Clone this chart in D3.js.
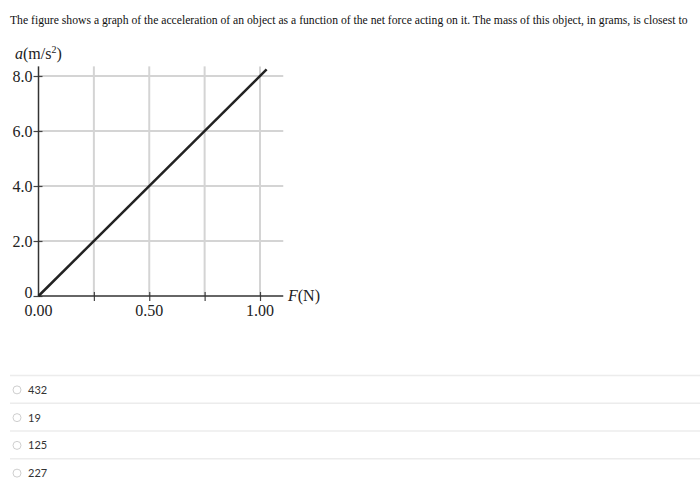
<!DOCTYPE html>
<html>
<head>
<meta charset="utf-8">
<script src="https://cdn.jsdelivr.net/npm/d3@7"></script>
<style>
  body { margin: 0; background: #fff; }
</style>
</head>
<body>
<svg width="700" height="492"></svg>
<script>
// data
const forceTicks = [0.25, 0.5, 0.75, 1.0]
const forceLabels = [0, 0.5, 1.0]
const accelTicks = [0, 2, 4, 6, 8]
const lineF = [0, 1.03]
const lineA = [0, 8.24]
const choices = ["432", "19", "125", "227"]
const question = "The figure shows a graph of the acceleration of an object as a function of the net force acting on it. The mass of this object, in grams, is closest to"

const svg = d3.select("svg")
const serif = "'Liberation Serif', 'Times New Roman', serif"

// question text, squeezed horizontally like the condensed original
const q = svg.append("text").attr("x", 0).attr("y", 0)
  .attr("font-family", serif).attr("font-size", 13.5).attr("fill", "#111")
  .text(question)
const qw = q.node().getComputedTextLength()
q.attr("transform", `translate(10,24) scale(${678 / qw},1)`)

const x = d3.scaleLinear().domain([0, 1]).range([38.5, 260])
const y = d3.scaleLinear().domain([0, 8]).range([296, 76])
const xMax = 1.105, yMax = 8.35

const g = svg.append("g")

// grid
g.selectAll(".vgrid").data(forceTicks).join("line")
  .attr("x1", d => x(d)).attr("x2", d => x(d))
  .attr("y1", y(0)).attr("y2", y(yMax))
  .attr("stroke", "#d4d4d4").attr("stroke-width", 2)
g.selectAll(".hgrid").data(accelTicks.filter(d => d > 0)).join("line")
  .attr("x1", x(0)).attr("x2", x(xMax))
  .attr("y1", d => y(d)).attr("y2", d => y(d))
  .attr("stroke", "#d4d4d4").attr("stroke-width", 2)

// axes
const yAxis = g.append("g").attr("transform", `translate(${x(0)},0)`)
  .call(d3.axisLeft(y).tickValues(accelTicks).tickSize(5).tickPadding(1)
    .tickFormat(d => d === 0 ? "0" : d3.format(".1f")(d)))
yAxis.select(".domain").remove()
yAxis.selectAll(".tick line").attr("x1", 4).attr("x2", -5).attr("stroke", "#444").attr("stroke-width", 1.2)
yAxis.selectAll("text").attr("font-family", serif).attr("font-size", 16).attr("fill", "#222")
yAxis.selectAll(".tick").filter(d => d === 0).select("text").attr("dy", "0.1em")

const xAxis = g.append("g").attr("transform", `translate(0,${y(0)})`)
  .call(d3.axisBottom(x).tickValues(forceTicks).tickSize(5).tickFormat(""))
xAxis.select(".domain").remove()
xAxis.selectAll(".tick line").attr("y1", -4).attr("stroke", "#444").attr("stroke-width", 1.2)

g.selectAll(".xlab").data(forceLabels).join("text")
  .attr("x", d => x(d)).attr("y", y(0) + 20)
  .attr("text-anchor", "middle").attr("font-family", serif).attr("font-size", 16).attr("fill", "#222")
  .text(d => d3.format(".2f")(d))

g.append("line").attr("x1", x(0)).attr("x2", x(0)).attr("y1", y(0)).attr("y2", y(yMax))
  .attr("stroke", "#333").attr("stroke-width", 1.5)
g.append("line").attr("x1", x(0)).attr("x2", x(xMax)).attr("y1", y(0)).attr("y2", y(0))
  .attr("stroke", "#333").attr("stroke-width", 1.5)

// axis titles
const at = svg.append("text").attr("x", 15).attr("y", 59)
  .attr("font-family", serif).attr("font-size", 16).attr("fill", "#222")
at.append("tspan").attr("font-style", "italic").text("a")
at.append("tspan").text("(m/s")
at.append("tspan").attr("font-size", 10).attr("dy", -6).text("2")
at.append("tspan").attr("dy", 6).text(")")

const ft = svg.append("text").attr("x", 288).attr("y", y(0) + 5)
  .attr("font-family", serif).attr("font-size", 16).attr("fill", "#222")
ft.append("tspan").attr("font-style", "italic").text("F")
ft.append("tspan").text("(N)")

// data line
g.append("path")
  .datum(lineF.map((f, i) => [f, lineA[i]]))
  .attr("d", d3.line().x(d => x(d[0])).y(d => y(d[1])))
  .attr("fill", "none").attr("stroke", "#222").attr("stroke-width", 2.5)

// answer choices
const rowY = d3.scaleBand().domain(choices).range([375.5, 486.5])
const opts = svg.selectAll(".opt").data(choices).join("g")
  .attr("transform", d => `translate(0,${rowY(d)})`)
opts.append("line").attr("x1", 10).attr("x2", 700).attr("y1", 0).attr("y2", 0)
  .attr("stroke", "#ececec").attr("stroke-width", 1.5)
opts.append("circle").attr("cx", 17).attr("cy", rowY.bandwidth() / 2 + 0.5).attr("r", 4)
  .attr("fill", "#fff").attr("stroke", "#cfcfcf").attr("stroke-width", 1)
opts.append("text").attr("x", 28).attr("y", rowY.bandwidth() / 2 + 4.5)
  .attr("font-family", "Lato, 'Open Sans', sans-serif").attr("font-size", 11).attr("fill", "#333")
  .text(d => d)
</script>
</body>
</html>
